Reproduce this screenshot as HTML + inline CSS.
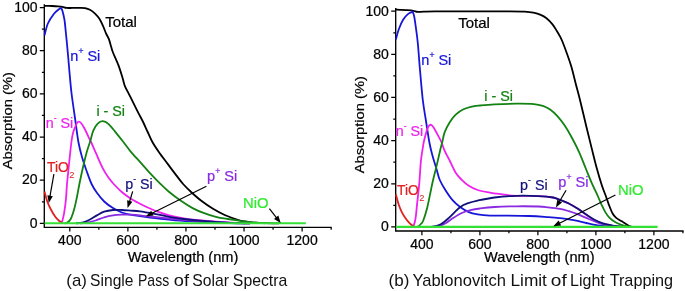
<!DOCTYPE html>
<html><head><meta charset="utf-8"><title>Absorption spectra</title>
<style>
html,body{margin:0;padding:0;background:#fff;}
body{width:685px;height:291px;overflow:hidden;}
svg{display:block;}
text{font-family:"Liberation Sans",sans-serif;stroke-width:0.22px;paint-order:stroke fill;}
.c{fill:none;stroke-linejoin:round;stroke-linecap:butt;}
.ax{stroke:#000;fill:none;}
</style></head><body>
<svg width="685" height="291" viewBox="0 0 685 291">
<rect width="685" height="291" fill="#fff"/>
<path class="ax" stroke-width="1.35" stroke-linejoin="miter" d="M44.30,4.30 V227.40 H331.78"/>
<path class="ax" stroke-width="1.25" d="M44.30,223.35 h-4.50M44.30,201.76 h-2.40M44.30,180.18 h-4.50M44.30,158.59 h-2.40M44.30,137.01 h-4.50M44.30,115.42 h-2.40M44.30,93.84 h-4.50M44.30,72.25 h-2.40M44.30,50.67 h-4.50M44.30,29.08 h-2.40M44.30,7.50 h-4.50M69.80,227.40 v4.20M98.84,227.40 v2.30M127.88,227.40 v4.20M156.92,227.40 v2.30M185.96,227.40 v4.20M215.00,227.40 v2.30M244.04,227.40 v4.20M273.08,227.40 v2.30M302.12,227.40 v4.20M331.16,227.40 v2.30"/>
<text x="37.50" y="227.65" font-size="14.0" stroke="#000" text-anchor="end">0</text>
<text x="37.50" y="184.48" font-size="14.0" stroke="#000" text-anchor="end">20</text>
<text x="37.50" y="141.31" font-size="14.0" stroke="#000" text-anchor="end">40</text>
<text x="37.50" y="98.14" font-size="14.0" stroke="#000" text-anchor="end">60</text>
<text x="37.50" y="54.97" font-size="14.0" stroke="#000" text-anchor="end">80</text>
<text x="37.50" y="11.80" font-size="14.0" stroke="#000" text-anchor="end">100</text>
<text x="69.80" y="245.35" font-size="14.0" stroke="#000" text-anchor="middle">400</text>
<text x="127.88" y="245.35" font-size="14.0" stroke="#000" text-anchor="middle">600</text>
<text x="185.96" y="245.35" font-size="14.0" stroke="#000" text-anchor="middle">800</text>
<text x="244.04" y="245.35" font-size="14.0" stroke="#000" text-anchor="middle">1000</text>
<text x="302.12" y="245.35" font-size="14.0" stroke="#000" text-anchor="middle">1200</text>
<path class="c" stroke="#000000" stroke-width="1.80" d="M44.30,5.80 C45.58,5.83 49.72,5.92 52.00,6.00 C54.28,6.08 56.25,6.17 58.00,6.30 C59.75,6.43 61.08,6.53 62.50,6.80 C63.92,7.07 64.92,7.71 66.50,7.90 C68.08,8.09 69.75,7.97 72.00,7.95 C74.25,7.93 77.83,7.78 80.00,7.80 C82.17,7.82 83.35,7.77 85.00,8.10 C86.65,8.43 88.23,8.88 89.90,9.80 C91.57,10.72 93.42,12.10 95.00,13.60 C96.58,15.10 98.05,16.72 99.40,18.80 C100.75,20.88 102.00,23.67 103.10,26.10 C104.20,28.53 105.03,31.22 106.00,33.40 C106.97,35.58 108.05,37.02 108.90,39.20 C109.75,41.38 110.45,44.37 111.10,46.50 C111.75,48.63 111.58,48.90 112.80,52.00 C114.02,55.10 116.77,60.77 118.40,65.10 C120.03,69.43 121.53,74.55 122.60,78.00 C123.67,81.45 123.70,83.03 124.80,85.80 C125.90,88.57 127.73,91.67 129.20,94.60 C130.67,97.53 132.02,100.23 133.60,103.40 C135.18,106.57 137.12,110.50 138.70,113.60 C140.28,116.70 141.60,118.93 143.10,122.00 C144.60,125.07 146.15,128.67 147.70,132.00 C149.25,135.33 150.52,138.63 152.40,142.00 C154.28,145.37 156.45,148.55 159.00,152.20 C161.55,155.85 164.78,160.00 167.70,163.90 C170.62,167.80 173.93,172.25 176.50,175.60 C179.07,178.95 180.67,181.27 183.10,184.00 C185.53,186.73 188.07,189.20 191.10,192.00 C194.13,194.80 197.65,198.00 201.30,200.80 C204.95,203.60 209.10,206.43 213.00,208.80 C216.90,211.17 220.20,213.05 224.70,215.00 C229.20,216.95 235.45,219.28 240.00,220.50 C244.55,221.72 247.83,221.85 252.00,222.30 C256.17,222.75 260.50,223.02 265.00,223.20 C269.50,223.38 276.67,223.37 279.00,223.40"/>
<path class="c" stroke="#1616d8" stroke-width="1.80" d="M44.50,35.30 C45.07,33.33 46.35,27.05 47.90,23.50 C49.45,19.95 51.97,16.38 53.80,14.00 C55.63,11.62 57.68,10.20 58.90,9.20 C60.12,8.20 60.73,8.20 61.10,8.00 C61.32,8.47 61.83,8.80 62.40,10.80 C62.97,12.80 63.95,16.63 64.50,20.00 C65.05,23.37 65.30,27.17 65.70,31.00 C66.10,34.83 66.50,38.83 66.90,43.00 C67.30,47.17 67.70,51.50 68.10,56.00 C68.50,60.50 68.73,63.83 69.30,70.00 C69.87,76.17 70.55,85.00 71.50,93.00 C72.45,101.00 73.85,109.83 75.00,118.00 C76.15,126.17 77.18,135.32 78.40,142.00 C79.62,148.68 80.92,153.23 82.30,158.10 C83.68,162.97 85.15,166.88 86.70,171.20 C88.25,175.52 89.90,180.40 91.60,184.00 C93.30,187.60 94.80,189.88 96.90,192.80 C99.00,195.72 101.52,198.95 104.20,201.50 C106.88,204.05 110.07,206.27 113.00,208.10 C115.93,209.93 118.88,211.40 121.80,212.50 C124.72,213.60 127.47,214.10 130.50,214.70 C133.53,215.30 135.92,215.52 140.00,216.10 C144.08,216.68 149.17,217.50 155.00,218.20 C160.83,218.90 167.50,219.70 175.00,220.30 C182.50,220.90 190.83,221.35 200.00,221.80 C209.17,222.25 221.67,222.73 230.00,223.00 C238.33,223.27 246.67,223.33 250.00,223.40"/>
<path class="c" stroke="#ee22ee" stroke-width="1.80" d="M61.50,223.30 C61.63,222.92 61.87,222.68 62.30,221.00 C62.73,219.32 63.48,216.93 64.10,213.20 C64.72,209.47 65.52,203.47 66.00,198.60 C66.48,193.73 66.47,190.03 67.00,184.00 C67.53,177.97 68.47,169.40 69.20,162.40 C69.93,155.40 70.77,146.90 71.40,142.00 C72.03,137.10 72.40,135.43 73.00,133.00 C73.60,130.57 74.33,129.07 75.00,127.40 C75.67,125.73 76.35,123.97 77.00,123.00 C77.65,122.03 78.23,121.60 78.90,121.60 C79.57,121.60 80.18,122.07 81.00,123.00 C81.82,123.93 82.88,125.62 83.80,127.20 C84.72,128.78 85.53,130.47 86.50,132.50 C87.47,134.53 88.83,137.82 89.60,139.40 C90.37,140.98 90.00,139.62 91.10,142.00 C92.20,144.38 94.25,149.32 96.20,153.70 C98.15,158.08 100.73,164.28 102.80,168.30 C104.87,172.32 106.78,175.18 108.60,177.80 C110.42,180.42 111.50,181.63 113.70,184.00 C115.90,186.37 119.00,189.60 121.80,192.00 C124.60,194.40 127.47,196.45 130.50,198.40 C133.53,200.35 136.95,202.10 140.00,203.70 C143.05,205.30 145.63,206.58 148.80,208.00 C151.97,209.42 155.60,210.97 159.00,212.20 C162.40,213.43 165.07,214.38 169.20,215.40 C173.33,216.42 178.93,217.50 183.80,218.30 C188.67,219.10 193.05,219.63 198.40,220.20 C203.75,220.77 209.80,221.27 215.90,221.70 C222.00,222.13 229.32,222.53 235.00,222.80 C240.68,223.07 247.50,223.22 250.00,223.30"/>
<path class="c" stroke="#128212" stroke-width="1.80" d="M64.50,223.30 C64.92,223.20 65.97,223.42 67.00,222.70 C68.03,221.98 69.48,221.32 70.70,219.00 C71.92,216.68 73.22,212.68 74.30,208.80 C75.38,204.92 76.35,199.83 77.20,195.70 C78.05,191.57 78.42,188.82 79.40,184.00 C80.38,179.18 81.88,172.10 83.10,166.80 C84.32,161.50 85.55,156.33 86.70,152.20 C87.85,148.07 88.90,145.58 90.00,142.00 C91.10,138.42 92.02,133.77 93.30,130.70 C94.58,127.63 96.12,125.18 97.70,123.60 C99.28,122.02 100.98,121.12 102.80,121.20 C104.62,121.28 106.42,122.20 108.60,124.10 C110.78,126.00 113.47,129.65 115.90,132.60 C118.33,135.55 120.77,138.68 123.20,141.80 C125.63,144.92 127.70,147.95 130.50,151.30 C133.30,154.65 136.95,158.48 140.00,161.90 C143.05,165.32 145.40,168.15 148.80,171.80 C152.20,175.45 157.00,180.43 160.40,183.80 C163.80,187.17 165.78,189.17 169.20,192.00 C172.62,194.83 177.00,198.12 180.90,200.80 C184.80,203.48 188.72,206.03 192.60,208.10 C196.48,210.17 200.32,211.75 204.20,213.20 C208.08,214.65 212.00,215.83 215.90,216.80 C219.80,217.77 223.58,218.33 227.60,219.00 C231.62,219.67 235.93,220.23 240.00,220.80 C244.07,221.37 247.83,221.98 252.00,222.40 C256.17,222.82 262.83,223.15 265.00,223.30"/>
<path class="c" stroke="#e02020" stroke-width="1.80" d="M44.50,191.50 C44.97,193.17 46.23,198.50 47.30,201.50 C48.37,204.50 49.57,206.95 50.90,209.50 C52.23,212.05 53.95,214.92 55.30,216.80 C56.65,218.68 57.80,219.77 59.00,220.80 C60.20,221.83 61.92,222.63 62.50,223.00"/>
<path class="c" stroke="#8a2be2" stroke-width="1.80" d="M80.00,223.30 C81.12,223.20 84.12,223.17 86.70,222.70 C89.28,222.23 92.58,221.40 95.50,220.50 C98.42,219.60 101.28,218.15 104.20,217.30 C107.12,216.45 110.07,215.83 113.00,215.40 C115.93,214.97 118.88,214.82 121.80,214.70 C124.72,214.58 127.47,214.60 130.50,214.70 C133.53,214.80 135.92,214.92 140.00,215.30 C144.08,215.68 150.17,216.47 155.00,217.00 C159.83,217.53 161.77,217.83 169.00,218.50 C176.23,219.17 189.07,220.32 198.40,221.00 C207.73,221.68 217.23,222.22 225.00,222.60 C232.77,222.98 241.67,223.18 245.00,223.30"/>
<path class="c" stroke="#10107a" stroke-width="1.80" d="M76.00,223.30 C77.05,223.20 80.03,223.28 82.30,222.70 C84.57,222.12 87.17,221.02 89.60,219.80 C92.03,218.58 94.47,216.75 96.90,215.40 C99.33,214.05 101.52,212.60 104.20,211.70 C106.88,210.80 110.07,210.28 113.00,210.00 C115.93,209.72 118.88,209.90 121.80,210.00 C124.72,210.10 127.47,210.37 130.50,210.60 C133.53,210.83 135.98,210.85 140.00,211.40 C144.02,211.95 149.73,213.00 154.60,213.90 C159.47,214.80 164.33,215.95 169.20,216.80 C174.07,217.65 177.72,218.27 183.80,219.00 C189.88,219.73 198.00,220.57 205.70,221.20 C213.40,221.83 222.62,222.45 230.00,222.80 C237.38,223.15 246.67,223.22 250.00,223.30"/>
<path class="c" stroke="#34e034" stroke-width="2.1" d="M44.5,223.25 H305.8"/>
<text transform="translate(105.20,26.60) scale(1.050,1)" font-size="14.3" fill="#000000" stroke="#000000" text-anchor="start" >Total</text>
<text transform="translate(70.30,61.40) scale(1.015,1)" font-size="14.3" fill="#1616d8" stroke="#1616d8" text-anchor="start" >n<tspan font-size="8.5" dy="-7">+</tspan><tspan dy="7"> </tspan>Si</text>
<text transform="translate(96.40,115.80) scale(1.000,1)" font-size="14.3" fill="#128212" stroke="#128212" text-anchor="start" >i - Si</text>
<text transform="translate(45.80,127.70) scale(1.000,1)" font-size="14.3" fill="#ee22ee" stroke="#ee22ee" text-anchor="start" >n<tspan font-size="8.5" dy="-7">-</tspan><tspan dy="7"> </tspan>Si</text>
<text transform="translate(47.00,171.60) scale(0.970,1)" font-size="14.3" fill="#e02020" stroke="#e02020" text-anchor="start" >TiO<tspan font-size="9.6" dy="6.2" dx="0.5" stroke="none">2</tspan></text>
<text transform="translate(125.30,188.60) scale(1.000,1)" font-size="14.3" fill="#10107a" stroke="#10107a" text-anchor="start" >p<tspan font-size="8.5" dy="-7">-</tspan><tspan dy="7"> </tspan>Si</text>
<text transform="translate(207.10,181.40) scale(1.020,1)" font-size="14.3" fill="#8a2be2" stroke="#8a2be2" text-anchor="start" >p<tspan font-size="8.5" dy="-7">+</tspan><tspan dy="7"> </tspan>Si</text>
<text transform="translate(243.00,207.60) scale(1.040,1)" font-size="14.3" fill="#30ea30" stroke="#30ea30" text-anchor="start" >NiO</text>
<path d="M53.90,174.10 L49.91,196.70" stroke="#000" stroke-width="1.2" fill="none"/><path d="M48.80,203.00 L47.38,195.23 L52.79,196.19 Z" fill="#000"/>
<path d="M132.70,191.30 L129.46,201.98" stroke="#000" stroke-width="1.2" fill="none"/><path d="M127.60,208.10 L127.12,200.22 L132.38,201.82 Z" fill="#000"/>
<path d="M206.40,186.20 L151.53,213.55" stroke="#000" stroke-width="1.2" fill="none"/><path d="M145.80,216.40 L151.20,210.64 L153.65,215.56 Z" fill="#000"/>
<path d="M269.40,208.60 L276.77,218.05" stroke="#000" stroke-width="1.2" fill="none"/><path d="M280.70,223.10 L273.98,218.95 L278.32,215.57 Z" fill="#000"/>
<text transform="translate(11.9,120.75) rotate(-90)" font-size="13.6" stroke="#000" text-anchor="middle" textLength="97.2" lengthAdjust="spacingAndGlyphs">Absorption (%)</text>
<text x="183.10" y="261.50" font-size="13.9" fill="#000000" stroke="#000000" text-anchor="middle" textLength="110.5" lengthAdjust="spacingAndGlyphs">Wavelength (nm)</text>
<text y="286.30" font-size="16.6" fill="#111" stroke="none"><tspan x="66.36" textLength="20.57" lengthAdjust="spacingAndGlyphs">(a)</tspan> <tspan x="90.11" textLength="43.35" lengthAdjust="spacingAndGlyphs">Single</tspan> <tspan x="138.01" textLength="31.15" lengthAdjust="spacingAndGlyphs">Pass</tspan> <tspan x="173.87" textLength="15.18" lengthAdjust="spacingAndGlyphs">of</tspan> <tspan x="192.36" textLength="36.67" lengthAdjust="spacingAndGlyphs">Solar</tspan> <tspan x="232.86" textLength="54.45" lengthAdjust="spacingAndGlyphs">Spectra</tspan></text>
<path class="ax" stroke-width="1.35" stroke-linejoin="miter" d="M395.70,8.00 V231.00 H683.57"/>
<path class="ax" stroke-width="1.25" d="M395.70,226.90 h-4.50M395.70,205.33 h-2.40M395.70,183.76 h-4.50M395.70,162.19 h-2.40M395.70,140.62 h-4.50M395.70,119.05 h-2.40M395.70,97.48 h-4.50M395.70,75.91 h-2.40M395.70,54.34 h-4.50M395.70,32.77 h-2.40M395.70,11.20 h-4.50M421.90,231.00 v4.20M450.90,231.00 v2.30M479.90,231.00 v4.20M508.90,231.00 v2.30M537.90,231.00 v4.20M566.90,231.00 v2.30M595.90,231.00 v4.20M624.90,231.00 v2.30M653.90,231.00 v4.20M682.90,231.00 v2.30"/>
<text x="388.90" y="231.20" font-size="14.0" stroke="#000" text-anchor="end">0</text>
<text x="388.90" y="188.06" font-size="14.0" stroke="#000" text-anchor="end">20</text>
<text x="388.90" y="144.92" font-size="14.0" stroke="#000" text-anchor="end">40</text>
<text x="388.90" y="101.78" font-size="14.0" stroke="#000" text-anchor="end">60</text>
<text x="388.90" y="58.64" font-size="14.0" stroke="#000" text-anchor="end">80</text>
<text x="388.90" y="15.50" font-size="14.0" stroke="#000" text-anchor="end">100</text>
<text x="421.90" y="248.95" font-size="14.0" stroke="#000" text-anchor="middle">400</text>
<text x="479.90" y="248.95" font-size="14.0" stroke="#000" text-anchor="middle">600</text>
<text x="537.90" y="248.95" font-size="14.0" stroke="#000" text-anchor="middle">800</text>
<text x="595.90" y="248.95" font-size="14.0" stroke="#000" text-anchor="middle">1000</text>
<text x="653.90" y="248.95" font-size="14.0" stroke="#000" text-anchor="middle">1200</text>
<path class="c" stroke="#000000" stroke-width="1.80" d="M395.70,9.50 C396.75,9.55 400.03,9.68 402.00,9.80 C403.97,9.92 405.60,10.02 407.50,10.20 C409.40,10.38 411.70,10.62 413.40,10.90 C415.10,11.18 416.00,11.77 417.70,11.90 C419.40,12.03 420.72,11.78 423.60,11.70 C426.48,11.62 427.27,11.45 435.00,11.40 C442.73,11.35 457.50,11.40 470.00,11.40 C482.50,11.40 500.90,11.35 510.00,11.40 C519.10,11.45 520.70,11.48 524.60,11.70 C528.50,11.92 530.72,12.18 533.40,12.70 C536.08,13.22 538.52,13.88 540.70,14.80 C542.88,15.72 544.57,16.65 546.50,18.20 C548.43,19.75 550.60,22.02 552.30,24.10 C554.00,26.18 555.35,28.52 556.70,30.70 C558.05,32.88 559.42,35.32 560.40,37.20 C561.38,39.08 561.50,39.25 562.60,42.00 C563.70,44.75 565.53,49.57 567.00,53.70 C568.47,57.83 569.93,61.75 571.40,66.80 C572.87,71.85 574.37,78.47 575.80,84.00 C577.23,89.53 578.27,93.00 580.00,100.00 C581.73,107.00 584.27,118.02 586.20,126.00 C588.13,133.98 589.85,140.90 591.60,147.90 C593.35,154.90 594.98,161.73 596.70,168.00 C598.42,174.27 600.35,180.75 601.90,185.50 C603.45,190.25 604.83,193.28 606.00,196.50 C607.17,199.72 607.80,201.97 608.90,204.80 C610.00,207.63 611.38,211.32 612.60,213.50 C613.82,215.68 614.75,216.63 616.20,217.90 C617.65,219.17 619.72,220.13 621.30,221.10 C622.88,222.07 624.48,222.93 625.70,223.70 C626.92,224.47 627.55,225.18 628.60,225.70 C629.65,226.22 630.77,226.58 632.00,226.80 C633.23,227.02 635.33,226.97 636.00,227.00"/>
<path class="c" stroke="#1616d8" stroke-width="1.80" d="M395.90,39.40 C396.38,37.70 397.60,32.48 398.80,29.20 C400.00,25.92 401.53,22.25 403.10,19.70 C404.67,17.15 406.62,15.23 408.20,13.90 C409.78,12.57 411.87,12.07 412.60,11.70 C412.85,12.42 413.62,13.82 414.10,16.00 C414.58,18.18 414.90,20.47 415.50,24.80 C416.10,29.13 416.95,34.47 417.70,42.00 C418.45,49.53 419.15,60.33 420.00,70.00 C420.85,79.67 421.80,91.50 422.80,100.00 C423.80,108.50 424.92,114.00 426.00,121.00 C427.08,128.00 428.25,136.32 429.30,142.00 C430.35,147.68 431.07,150.48 432.30,155.10 C433.53,159.72 435.45,165.55 436.70,169.70 C437.95,173.85 438.33,176.58 439.80,180.00 C441.27,183.42 443.33,186.80 445.50,190.20 C447.67,193.60 450.37,197.60 452.80,200.40 C455.23,203.20 457.43,205.05 460.10,207.00 C462.77,208.95 465.88,210.88 468.80,212.10 C471.72,213.32 474.07,213.72 477.60,214.30 C481.13,214.88 486.27,215.38 490.00,215.60 C493.73,215.82 493.47,215.53 500.00,215.60 C506.53,215.67 521.17,215.73 529.20,216.00 C537.23,216.27 543.07,216.83 548.20,217.20 C553.33,217.57 556.57,217.85 560.00,218.20 C563.43,218.55 565.88,218.87 568.80,219.30 C571.72,219.73 574.58,220.18 577.50,220.80 C580.42,221.42 583.38,222.32 586.30,223.00 C589.22,223.68 592.08,224.42 595.00,224.90 C597.92,225.38 600.87,225.60 603.80,225.90 C606.73,226.20 609.90,226.52 612.60,226.70 C615.30,226.88 618.77,226.95 620.00,227.00"/>
<path class="c" stroke="#ee22ee" stroke-width="1.80" d="M413.20,226.90 C413.47,226.08 414.37,223.70 414.80,222.00 C415.23,220.30 415.43,219.57 415.80,216.70 C416.17,213.83 416.43,210.18 417.00,204.80 C417.57,199.42 418.55,191.70 419.20,184.40 C419.85,177.10 420.30,167.10 420.90,161.00 C421.50,154.90 422.28,151.13 422.80,147.80 C423.32,144.47 423.38,143.73 424.00,141.00 C424.62,138.27 425.78,133.77 426.50,131.40 C427.22,129.03 427.70,127.90 428.30,126.80 C428.90,125.70 429.48,125.02 430.10,124.80 C430.72,124.58 431.38,125.02 432.00,125.50 C432.62,125.98 432.77,125.98 433.80,127.70 C434.83,129.42 436.93,133.42 438.20,135.80 C439.47,138.18 440.32,139.50 441.40,142.00 C442.48,144.50 443.28,147.63 444.70,150.80 C446.12,153.97 448.07,157.35 449.90,161.00 C451.73,164.65 453.77,169.60 455.70,172.70 C457.63,175.80 459.32,177.42 461.50,179.60 C463.68,181.78 466.12,184.07 468.80,185.80 C471.48,187.53 474.07,188.87 477.60,190.00 C481.13,191.13 487.17,192.03 490.00,192.60 C492.83,193.17 491.40,192.95 494.60,193.40 C497.80,193.85 504.33,194.88 509.20,195.30 C514.07,195.72 518.93,195.77 523.80,195.90 C528.67,196.03 533.53,195.83 538.40,196.10 C543.27,196.37 549.40,196.87 553.00,197.50 C556.60,198.13 557.37,198.90 560.00,199.90 C562.63,200.90 565.88,202.05 568.80,203.50 C571.72,204.95 574.58,206.72 577.50,208.60 C580.42,210.48 583.38,212.82 586.30,214.80 C589.22,216.78 592.08,218.95 595.00,220.50 C597.92,222.05 600.63,223.15 603.80,224.10 C606.97,225.05 610.97,225.73 614.00,226.20 C617.03,226.67 620.67,226.78 622.00,226.90"/>
<path class="c" stroke="#128212" stroke-width="1.80" d="M416.50,226.90 C416.87,226.78 417.95,226.72 418.70,226.20 C419.45,225.68 420.23,224.75 421.00,223.80 C421.77,222.85 422.27,223.18 423.30,220.50 C424.33,217.82 425.93,212.75 427.20,207.70 C428.47,202.65 429.92,194.82 430.90,190.20 C431.88,185.58 432.13,184.13 433.10,180.00 C434.07,175.87 435.48,170.52 436.70,165.40 C437.92,160.28 439.47,153.20 440.40,149.30 C441.33,145.40 441.58,144.87 442.30,142.00 C443.02,139.13 443.43,135.45 444.70,132.10 C445.97,128.75 448.07,124.82 449.90,121.90 C451.73,118.98 453.52,116.67 455.70,114.60 C457.88,112.53 460.32,110.83 463.00,109.50 C465.68,108.17 468.88,107.27 471.80,106.60 C474.72,105.93 476.70,105.87 480.50,105.50 C484.30,105.13 488.60,104.70 494.60,104.40 C500.60,104.10 509.93,103.75 516.50,103.70 C523.07,103.65 529.62,103.73 534.00,104.10 C538.38,104.47 540.12,105.00 542.80,105.90 C545.48,106.80 547.67,107.80 550.10,109.50 C552.53,111.20 554.97,113.43 557.40,116.10 C559.83,118.77 562.28,121.90 564.70,125.50 C567.12,129.10 569.48,133.23 571.90,137.70 C574.32,142.17 576.92,147.25 579.20,152.30 C581.48,157.35 583.53,162.95 585.60,168.00 C587.67,173.05 589.53,177.85 591.60,182.60 C593.67,187.35 596.33,192.80 598.00,196.50 C599.67,200.20 600.38,202.20 601.60,204.80 C602.82,207.40 603.97,209.92 605.30,212.10 C606.63,214.28 607.90,216.20 609.60,217.90 C611.30,219.60 613.55,221.15 615.50,222.30 C617.45,223.45 619.35,224.13 621.30,224.80 C623.25,225.47 625.42,225.93 627.20,226.30 C628.98,226.67 631.20,226.88 632.00,227.00"/>
<path class="c" stroke="#e02020" stroke-width="1.80" d="M395.90,194.60 C396.33,196.17 397.50,201.05 398.50,204.00 C399.50,206.95 400.48,209.58 401.90,212.30 C403.32,215.02 405.57,218.35 407.00,220.30 C408.43,222.25 409.33,222.95 410.50,224.00 C411.67,225.05 413.42,226.17 414.00,226.60"/>
<path class="c" stroke="#8a2be2" stroke-width="1.80" d="M433.00,226.90 C433.90,226.78 436.28,226.82 438.40,226.20 C440.52,225.58 443.27,224.55 445.70,223.20 C448.13,221.85 450.32,219.80 453.00,218.10 C455.68,216.40 458.88,214.32 461.80,213.00 C464.72,211.68 467.47,210.95 470.50,210.20 C473.53,209.45 475.98,209.03 480.00,208.50 C484.02,207.97 488.52,207.37 494.60,207.00 C500.68,206.63 509.20,206.38 516.50,206.30 C523.80,206.22 533.12,206.33 538.40,206.50 C543.68,206.67 544.60,206.90 548.20,207.30 C551.80,207.70 556.57,208.25 560.00,208.90 C563.43,209.55 565.88,210.32 568.80,211.20 C571.72,212.08 574.58,213.08 577.50,214.20 C580.42,215.32 583.38,216.68 586.30,217.90 C589.22,219.12 592.08,220.40 595.00,221.50 C597.92,222.60 600.63,223.73 603.80,224.50 C606.97,225.27 610.97,225.70 614.00,226.10 C617.03,226.50 620.67,226.77 622.00,226.90"/>
<path class="c" stroke="#10107a" stroke-width="1.80" d="M430.00,226.90 C430.92,226.78 433.62,226.68 435.50,226.20 C437.38,225.72 439.12,225.35 441.30,224.00 C443.48,222.65 446.40,220.05 448.60,218.10 C450.80,216.15 452.55,214.17 454.50,212.30 C456.45,210.43 458.15,208.38 460.30,206.90 C462.45,205.42 464.52,204.45 467.40,203.40 C470.28,202.35 473.07,201.58 477.60,200.60 C482.13,199.62 488.12,198.30 494.60,197.50 C501.08,196.70 509.20,196.03 516.50,195.80 C523.80,195.57 532.32,195.82 538.40,196.10 C544.48,196.38 549.40,196.87 553.00,197.50 C556.60,198.13 557.37,198.90 560.00,199.90 C562.63,200.90 565.88,202.05 568.80,203.50 C571.72,204.95 574.58,206.75 577.50,208.60 C580.42,210.45 583.38,212.70 586.30,214.60 C589.22,216.50 592.08,218.48 595.00,220.00 C597.92,221.52 600.87,222.77 603.80,223.70 C606.73,224.63 609.68,225.10 612.60,225.60 C615.52,226.10 618.73,226.47 621.30,226.70 C623.87,226.93 626.88,226.95 628.00,227.00"/>
<path class="c" stroke="#34e034" stroke-width="2.1" d="M395.9,226.85 H657.6"/>
<text transform="translate(458.20,27.90) scale(1.050,1)" font-size="14.3" fill="#000000" stroke="#000000" text-anchor="start" >Total</text>
<text transform="translate(421.30,65.00) scale(1.015,1)" font-size="14.3" fill="#1616d8" stroke="#1616d8" text-anchor="start" >n<tspan font-size="8.5" dy="-7">+</tspan><tspan dy="7"> </tspan>Si</text>
<text transform="translate(484.30,100.80) scale(1.000,1)" font-size="14.3" fill="#128212" stroke="#128212" text-anchor="start" >i - Si</text>
<text transform="translate(395.80,135.50) scale(1.000,1)" font-size="14.3" fill="#ee22ee" stroke="#ee22ee" text-anchor="start" >n<tspan font-size="8.5" dy="-7">-</tspan><tspan dy="7"> </tspan>Si</text>
<text transform="translate(397.00,194.60) scale(0.970,1)" font-size="14.3" fill="#e02020" stroke="#e02020" text-anchor="start" >TiO<tspan font-size="9.6" dy="6.2" dx="0.5" stroke="none">2</tspan></text>
<text transform="translate(520.10,190.20) scale(1.000,1)" font-size="14.3" fill="#10107a" stroke="#10107a" text-anchor="start" >p<tspan font-size="8.5" dy="-7">-</tspan><tspan dy="7"> </tspan>Si</text>
<text transform="translate(558.30,187.00) scale(1.020,1)" font-size="14.3" fill="#8a2be2" stroke="#8a2be2" text-anchor="start" >p<tspan font-size="8.5" dy="-7">+</tspan><tspan dy="7"> </tspan>Si</text>
<text transform="translate(617.90,194.60) scale(1.040,1)" font-size="14.3" fill="#30ea30" stroke="#30ea30" text-anchor="start" >NiO</text>
<path d="M566.10,190.20 L559.15,201.99" stroke="#000" stroke-width="1.2" fill="none"/><path d="M555.90,207.50 L557.29,199.73 L562.03,202.52 Z" fill="#000"/>
<path d="M615.40,195.00 L559.02,223.42" stroke="#000" stroke-width="1.2" fill="none"/><path d="M553.30,226.30 L558.67,220.51 L561.15,225.43 Z" fill="#000"/>
<text transform="translate(363.6,124.75) rotate(-90)" font-size="13.6" stroke="#000" text-anchor="middle" textLength="97.2" lengthAdjust="spacingAndGlyphs">Absorption (%)</text>
<text x="539.35" y="261.50" font-size="13.9" fill="#000000" stroke="#000000" text-anchor="middle" textLength="110.5" lengthAdjust="spacingAndGlyphs">Wavelength (nm)</text>
<text y="286.30" font-size="16.6" fill="#111" stroke="none"><tspan x="388.57" textLength="20.78" lengthAdjust="spacingAndGlyphs">(b)</tspan> <tspan x="412.39" textLength="93.56" lengthAdjust="spacingAndGlyphs">Yablonovitch</tspan> <tspan x="510.45" textLength="36.47" lengthAdjust="spacingAndGlyphs">Limit</tspan> <tspan x="550.83" textLength="15.89" lengthAdjust="spacingAndGlyphs">of</tspan> <tspan x="570.10" textLength="34.65" lengthAdjust="spacingAndGlyphs">Light</tspan> <tspan x="609.64" textLength="63.49" lengthAdjust="spacingAndGlyphs">Trapping</tspan></text>
</svg>
</body></html>
